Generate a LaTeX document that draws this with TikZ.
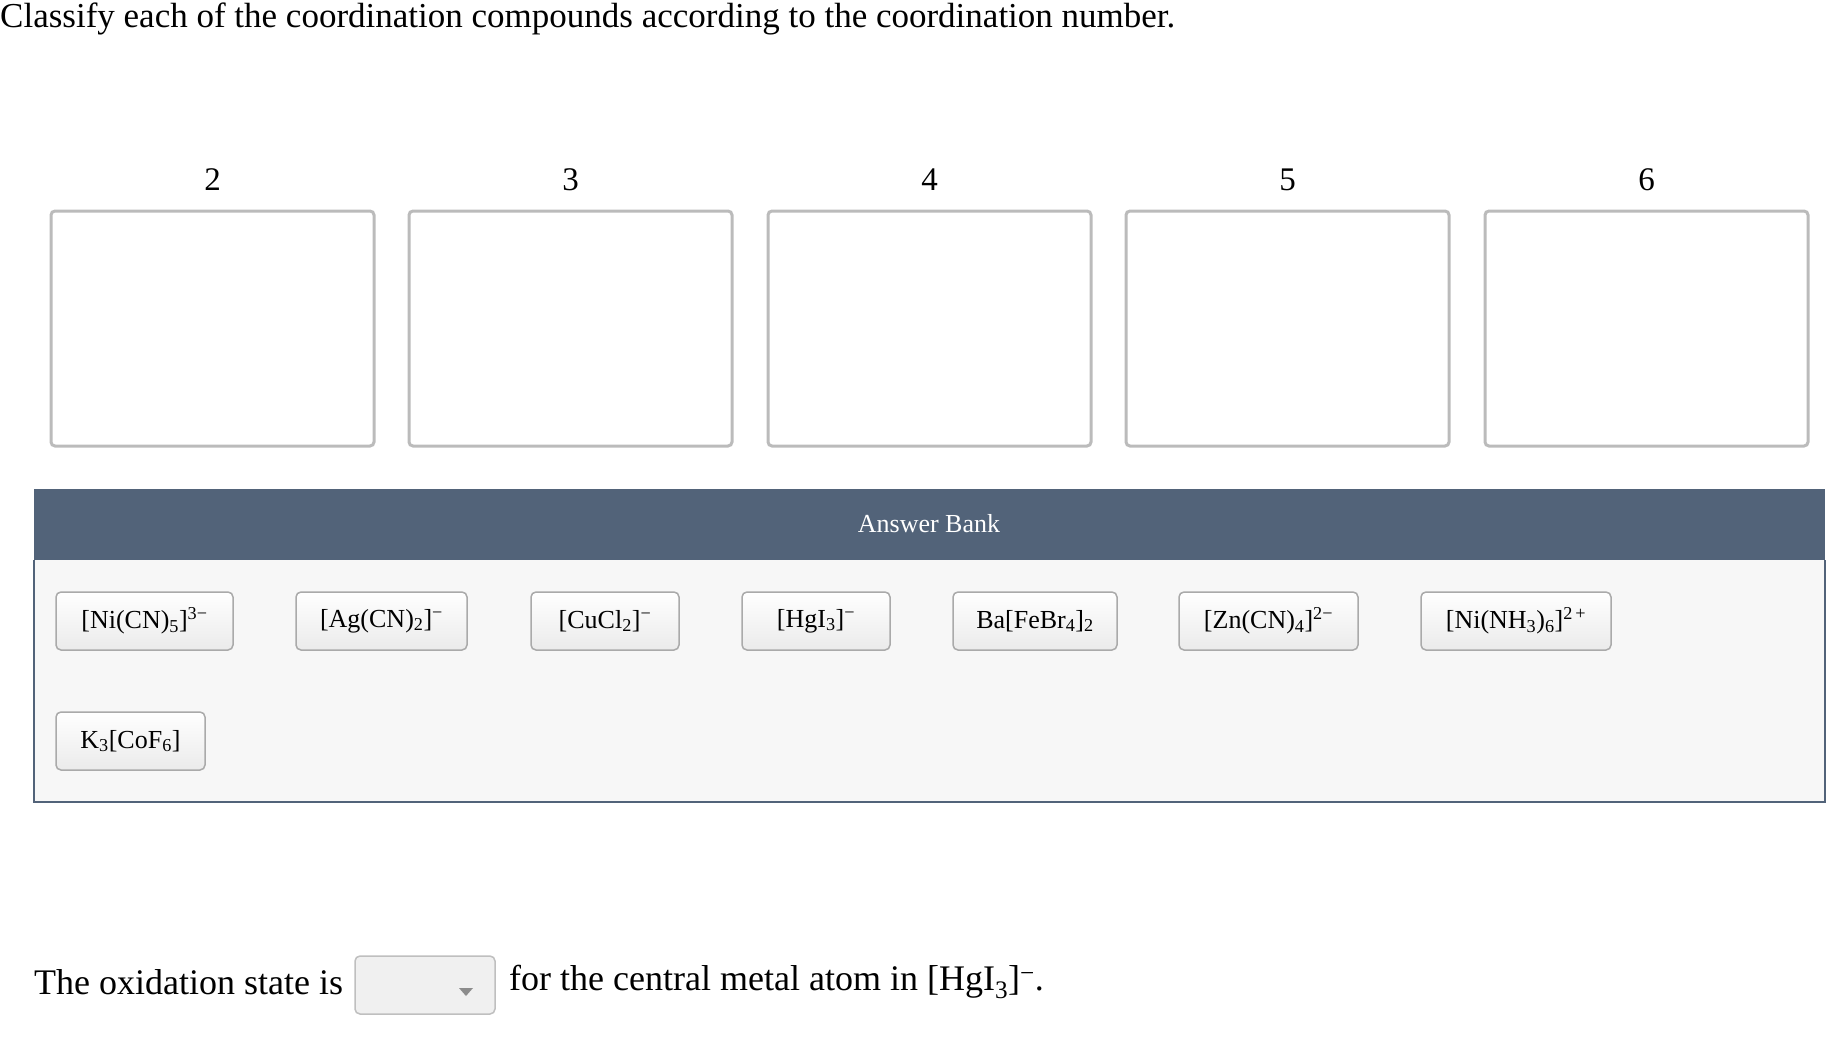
\documentclass[tikz,border=0pt]{standalone}
\usepackage{fontspec}
\setmainfont{Liberation Serif}
\newcommand{\sbs}[1]{\textsubscript{#1}}
\newcommand{\sps}[1]{\textsuperscript{#1}}
\definecolor{hdr}{HTML}{526379}
\definecolor{bankbg}{HTML}{F7F7F7}
\definecolor{boxgray}{HTML}{BBBBBB}
\definecolor{chipb}{HTML}{AAAAAA}
\tikzset{
  x=1pt,y=-1pt,
  dropbox/.style={draw=boxgray,line width=3pt,rounded corners=4pt,fill=white},
  chip/.style={draw=chipb,line width=1.5pt,rounded corners=5pt,top color=white,bottom color=black!8,inner sep=0pt},
  lbl/.style={font=\fontsize{33}{38}\selectfont,anchor=center},
  chiptxt/.style={font=\fontsize{26}{30}\selectfont,anchor=center},
}
\begin{document}
\begin{tikzpicture}
\useasboundingbox (0,0) rectangle (1846,1042);
\node[anchor=north west,inner sep=0pt,font=\fontsize{35}{40}\selectfont] (title) at (0,3) {Classify each of the coordination compounds according to the coordination number.};
% category boxes
\foreach \n/\xa/\xb in {2/51/374,3/409/732,4/768/1091,5/1126/1449,6/1485/1808}{
  \node[lbl] (n\n) at ({(\xa+\xb)/2},180) {\n};
  \draw[dropbox] (\xa,211) rectangle (\xb,446);
}
% answer bank
\fill[bankbg] (34,560) rectangle (1825,802);
\draw[hdr,line width=1.5pt] (34,560) -- (34,802) -- (1825,802) -- (1825,560);
\fill[hdr] (34,489) rectangle (1825,560);
\node[chiptxt,text=white] (ab) at (929,524) {Answer Bank};
% chips
\draw[chip] (56,592) rectangle (233,650);
\node[chiptxt] (c1) at (144.5,621) {[Ni(CN)\sbs{5}]\sps{3−}};
\draw[chip] (296,592) rectangle (467,650);
\node[chiptxt] (c2) at (381.5,621) {[Ag(CN)\sbs{2}]\sps{−}};
\draw[chip] (531,592) rectangle (679,650);
\node[chiptxt] (c3) at (605,621) {[CuCl\sbs{2}]\sps{−}};
\draw[chip] (742,592) rectangle (890,650);
\node[chiptxt] (c4) at (816,621) {[HgI\sbs{3}]\sps{−}};
\draw[chip] (953,592) rectangle (1117,650);
\node[chiptxt] (c5) at (1035,621) {Ba[FeBr\sbs{4}]\sbs{2}};
\draw[chip] (1179,592) rectangle (1358,650);
\node[chiptxt] (c6) at (1268.5,621) {[Zn(CN)\sbs{4}]\sps{2−}};
\draw[chip] (1421,592) rectangle (1611,650);
\node[chiptxt] (c7) at (1516,621) {[Ni(NH\sbs{3})\sbs{6}]\sps{2\,+}};
\draw[chip] (56,712) rectangle (205,770);
\node[chiptxt] (c8) at (130.5,741) {K\sbs{3}[CoF\sbs{6}]};
% bottom sentence
\node[anchor=west,inner sep=0pt,font=\fontsize{36}{40}\selectfont] (t1) at (34,982) {The oxidation state is};
\draw[draw=black!25,line width=1.5pt,rounded corners=5pt,fill=black!6] (355,956) rectangle (495,1014);
\fill[black!45] (459,988) -- (473,988) -- (466,996) -- cycle;
\node[anchor=west,inner sep=0pt,font=\fontsize{36}{40}\selectfont] (t2) at (509,982) {for the central metal atom in [HgI\sbs{3}]\sps{−}.};
\end{tikzpicture}
\end{document}
